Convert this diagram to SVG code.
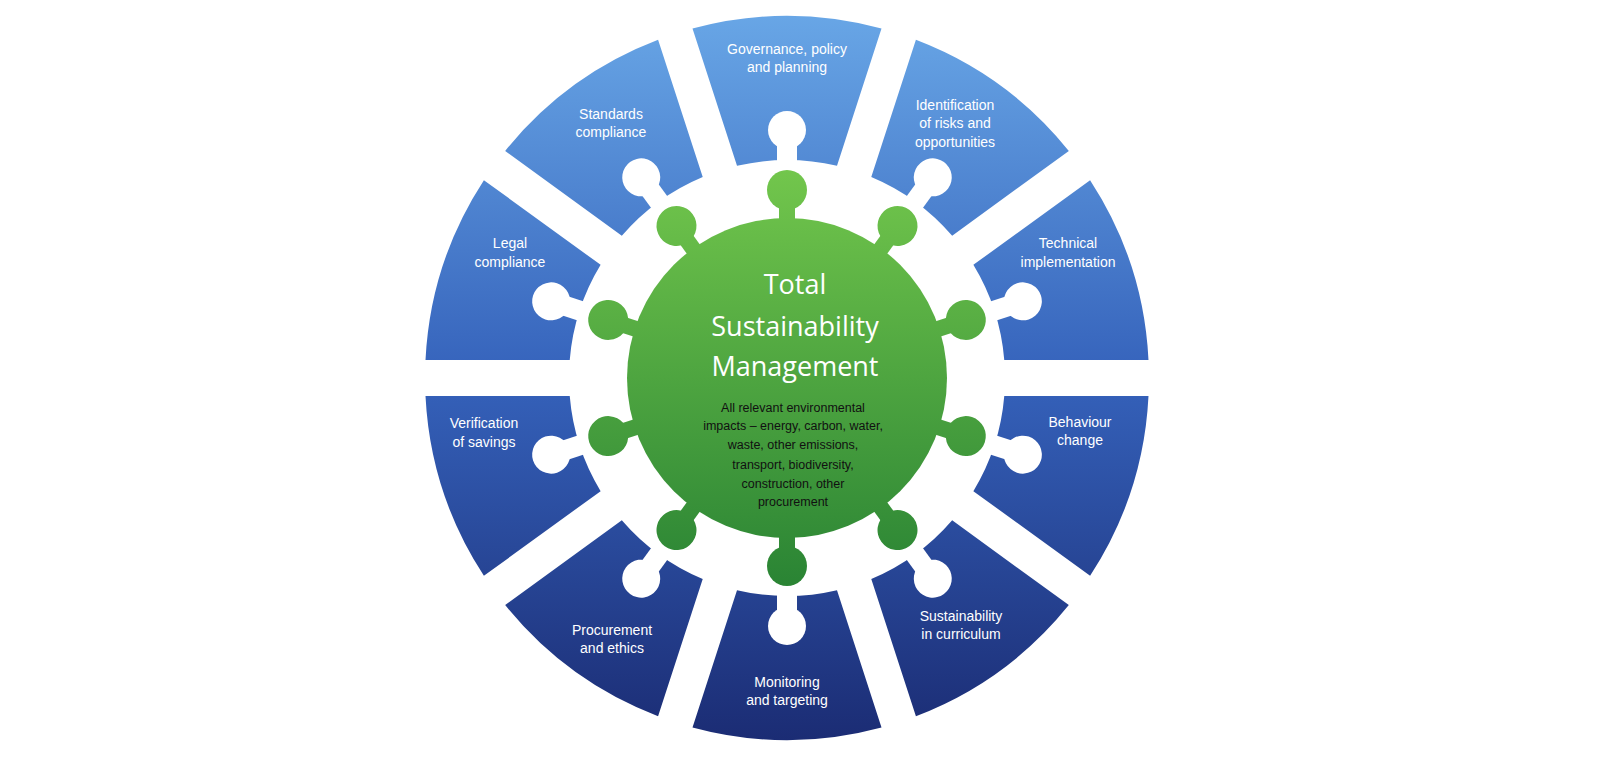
<svg xmlns="http://www.w3.org/2000/svg" xmlns:xlink="http://www.w3.org/1999/xlink" width="1600" height="759" viewBox="0 0 1600 759">
<defs>
<linearGradient id="b" gradientUnits="userSpaceOnUse" x1="0" y1="15" x2="0" y2="740"><stop offset="0" stop-color="#68a6e6"/><stop offset="0.5" stop-color="#3562bb"/><stop offset="1" stop-color="#1b2c74"/></linearGradient>
<linearGradient id="g" gradientUnits="userSpaceOnUse" x1="0" y1="170" x2="0" y2="585"><stop offset="0" stop-color="#72c64c"/><stop offset="1" stop-color="#2a8434"/></linearGradient>
<g id="seg"><path d="M692.5,28.6 A362,362 0 0 1 881.5,28.6 L837,165.8 A218,218 0 0 0 737,165.8 Z"/></g>
<g id="hole"><circle cx="787" cy="130" r="19"/><rect x="777" y="130" width="20" height="40"/></g>
<g id="knob"><circle cx="787" cy="190" r="20"/><rect x="779" y="188" width="16" height="40"/></g>
<linearGradient id="b1" href="#b" gradientTransform="rotate(-36 787 378)"/>
<linearGradient id="b2" href="#b" gradientTransform="rotate(-72 787 378)"/>
<linearGradient id="b3" href="#b" gradientTransform="rotate(-108 787 378)"/>
<linearGradient id="b4" href="#b" gradientTransform="rotate(-144 787 378)"/>
<linearGradient id="b5" href="#b" gradientTransform="rotate(-180 787 378)"/>
<linearGradient id="b6" href="#b" gradientTransform="rotate(-216 787 378)"/>
<linearGradient id="b7" href="#b" gradientTransform="rotate(-252 787 378)"/>
<linearGradient id="b8" href="#b" gradientTransform="rotate(-288 787 378)"/>
<linearGradient id="b9" href="#b" gradientTransform="rotate(-324 787 378)"/>
<linearGradient id="g1" href="#g" gradientTransform="rotate(-36 787 378)"/>
<linearGradient id="g2" href="#g" gradientTransform="rotate(-72 787 378)"/>
<linearGradient id="g3" href="#g" gradientTransform="rotate(-108 787 378)"/>
<linearGradient id="g4" href="#g" gradientTransform="rotate(-144 787 378)"/>
<linearGradient id="g5" href="#g" gradientTransform="rotate(-180 787 378)"/>
<linearGradient id="g6" href="#g" gradientTransform="rotate(-216 787 378)"/>
<linearGradient id="g7" href="#g" gradientTransform="rotate(-252 787 378)"/>
<linearGradient id="g8" href="#g" gradientTransform="rotate(-288 787 378)"/>
<linearGradient id="g9" href="#g" gradientTransform="rotate(-324 787 378)"/>
</defs>
<style>
.t{font-family:"Liberation Sans",Arial,sans-serif;font-size:14px;fill:#fff;text-anchor:middle}
.big{font-family:"Open Sans","Liberation Sans",sans-serif;font-size:27px;fill:#fff;text-anchor:middle}
.s{font-family:"Liberation Sans",Arial,sans-serif;font-size:12.5px;fill:#111;text-anchor:middle}
.h{fill:#fff}
</style>
<rect width="1600" height="759" fill="#fff"/>
<g id="seg0"><g><use href="#seg" fill="url(#b)"/><use href="#hole" class="h"/></g><text class="t" x="787" y="54">Governance, policy</text><text class="t" x="787" y="72">and planning</text></g>
<g id="seg1"><g transform="rotate(36 787 378)"><use href="#seg" fill="url(#b1)"/><use href="#hole" class="h"/></g><text class="t" x="955" y="110">Identification</text><text class="t" x="955" y="128">of risks and</text><text class="t" x="955" y="147">opportunities</text></g>
<g id="seg2"><g transform="rotate(72 787 378)"><use href="#seg" fill="url(#b2)"/><use href="#hole" class="h"/></g><text class="t" x="1068" y="248">Technical</text><text class="t" x="1068" y="267">implementation</text></g>
<g id="seg3"><g transform="rotate(108 787 378)"><use href="#seg" fill="url(#b3)"/><use href="#hole" class="h"/></g><text class="t" x="1080" y="427">Behaviour</text><text class="t" x="1080" y="445">change</text></g>
<g id="seg4"><g transform="rotate(144 787 378)"><use href="#seg" fill="url(#b4)"/><use href="#hole" class="h"/></g><text class="t" x="961" y="621">Sustainability</text><text class="t" x="961" y="639">in curriculum</text></g>
<g id="seg5"><g transform="rotate(180 787 378)"><use href="#seg" fill="url(#b5)"/><use href="#hole" class="h"/></g><text class="t" x="787" y="687">Monitoring</text><text class="t" x="787" y="705">and targeting</text></g>
<g id="seg6"><g transform="rotate(216 787 378)"><use href="#seg" fill="url(#b6)"/><use href="#hole" class="h"/></g><text class="t" x="612" y="635">Procurement</text><text class="t" x="612" y="653">and ethics</text></g>
<g id="seg7"><g transform="rotate(252 787 378)"><use href="#seg" fill="url(#b7)"/><use href="#hole" class="h"/></g><text class="t" x="484" y="428">Verification</text><text class="t" x="484" y="447">of savings</text></g>
<g id="seg8"><g transform="rotate(288 787 378)"><use href="#seg" fill="url(#b8)"/><use href="#hole" class="h"/></g><text class="t" x="510" y="248">Legal</text><text class="t" x="510" y="267">compliance</text></g>
<g id="seg9"><g transform="rotate(324 787 378)"><use href="#seg" fill="url(#b9)"/><use href="#hole" class="h"/></g><text class="t" x="611" y="119">Standards</text><text class="t" x="611" y="137">compliance</text></g>
<g id="center">
<use href="#knob" fill="url(#g)"/>
<use href="#knob" fill="url(#g1)" transform="rotate(36 787 378)"/>
<use href="#knob" fill="url(#g2)" transform="rotate(72 787 378)"/>
<use href="#knob" fill="url(#g3)" transform="rotate(108 787 378)"/>
<use href="#knob" fill="url(#g4)" transform="rotate(144 787 378)"/>
<use href="#knob" fill="url(#g5)" transform="rotate(180 787 378)"/>
<use href="#knob" fill="url(#g6)" transform="rotate(216 787 378)"/>
<use href="#knob" fill="url(#g7)" transform="rotate(252 787 378)"/>
<use href="#knob" fill="url(#g8)" transform="rotate(288 787 378)"/>
<use href="#knob" fill="url(#g9)" transform="rotate(324 787 378)"/>
<circle cx="787" cy="378" r="160" fill="url(#g)"/>
<text class="big" x="795" y="294">Total</text>
<text class="big" x="795" y="336">Sustainability</text>
<text class="big" x="795" y="376">Management</text>
<text class="s" x="793" y="412">All relevant environmental</text>
<text class="s" x="793" y="430">impacts – energy, carbon, water,</text>
<text class="s" x="793" y="449">waste, other emissions,</text>
<text class="s" x="793" y="469">transport, biodiversity,</text>
<text class="s" x="793" y="488">construction, other</text>
<text class="s" x="793" y="506">procurement</text>
</g>
<g id="connectors"/>
</svg>
